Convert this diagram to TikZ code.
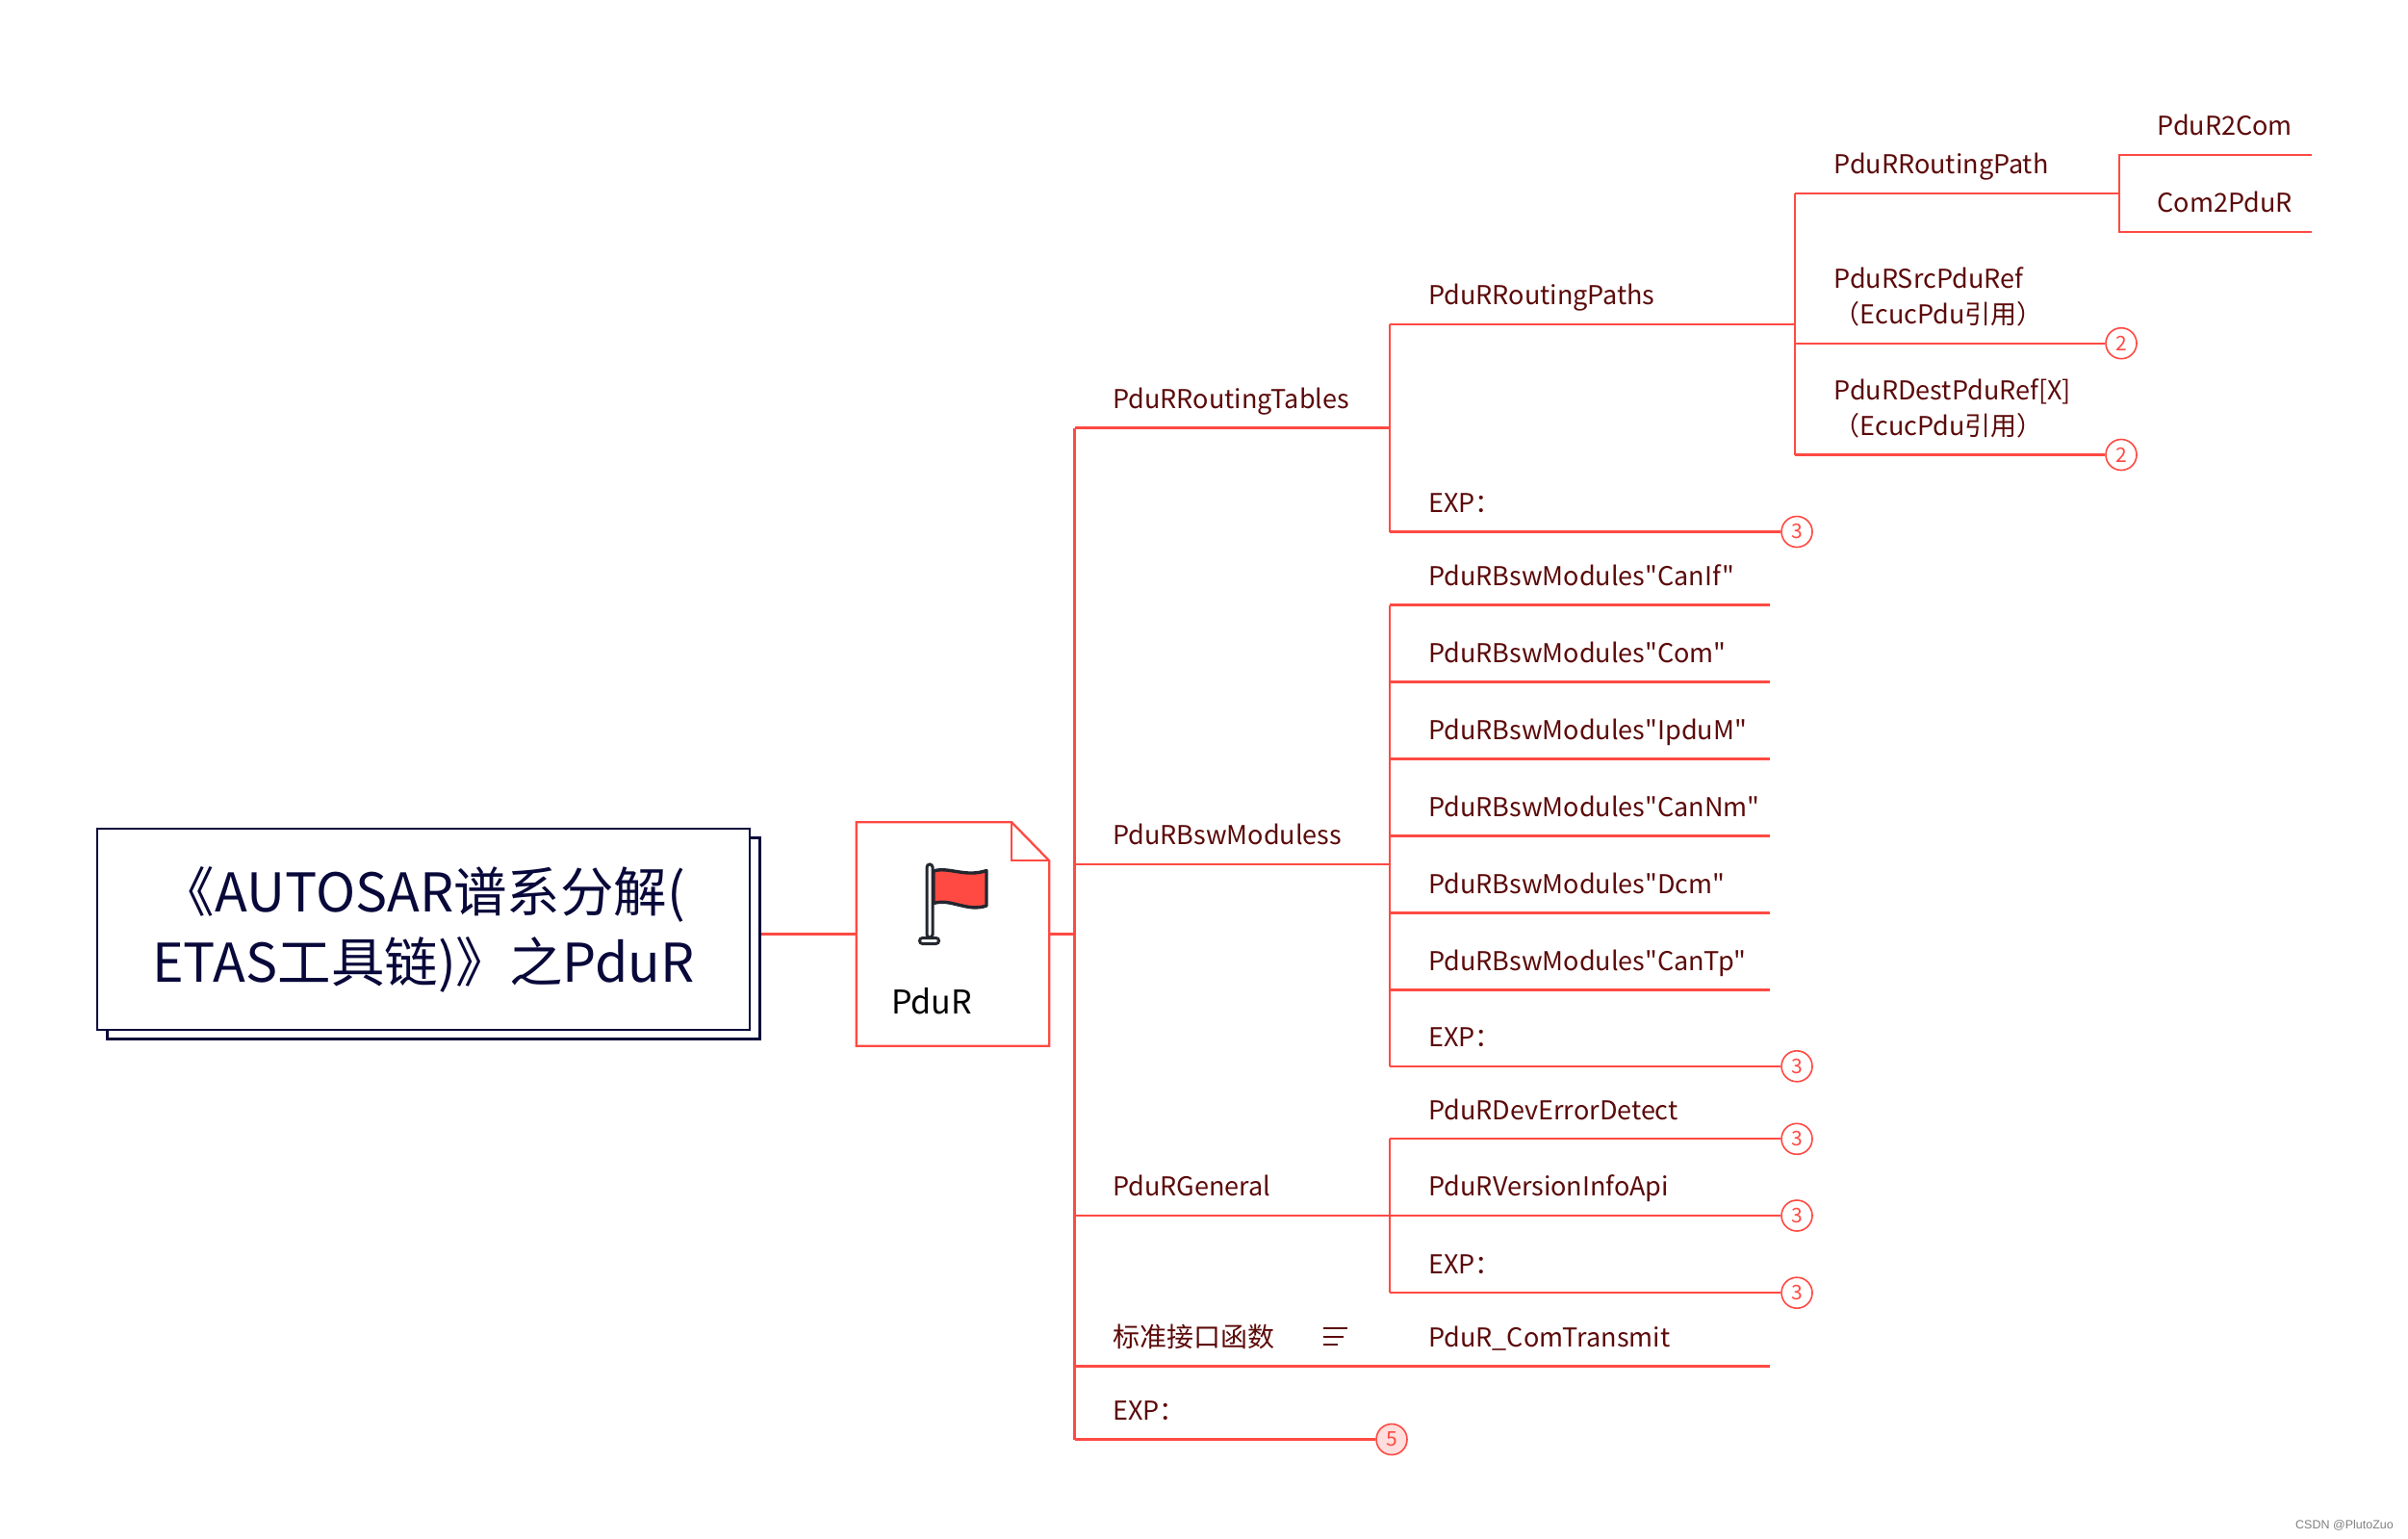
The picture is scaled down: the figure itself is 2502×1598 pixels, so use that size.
\documentclass[tikz,border=0pt]{standalone}
\usepackage{fontspec}
\setmainfont[Ligatures=TeXOff]{Noto Sans CJK SC}
\newfontfamily\markfont{Liberation Sans}
\usetikzlibrary{positioning}
\definecolor{linered}{HTML}{FF4A43}
\definecolor{maroon}{HTML}{5C0A0A}
\definecolor{navy}{HTML}{08083A}
\definecolor{flagdark}{HTML}{23272F}

\begin{document}
\begin{tikzpicture}[x=1pt,y=-1pt,
                branch/.style={draw=linered,line width=2.3pt},
                topic/.style={anchor=south west,inner sep=0pt,text depth=20pt,
                    text=maroon,font=\fontsize{27}{37}\selectfont,align=left},
                badge/.style={circle,draw=linered,fill=white,line width=1.6pt,inner sep=0pt,
                    minimum size=32pt,text=linered,font=\fontsize{21}{21}\selectfont},
                titlebox/.style={draw=navy,fill=white,line width=2.4pt,minimum width=678pt,
                    minimum height=209pt,inner sep=0pt,text=navy,align=center,
                    font=\fontsize{55.5}{73}\selectfont}]
            \useasboundingbox (0,0) rectangle (2502,1598);

            \node [titlebox]             (titleback) at (450.5,975)   {};
            \node [titlebox]             (title)     at (440,965.5)
                {《AUTOSAR谱系分解(\\ETAS工具链)》之PduR};
            \node [inner sep=0pt,minimum width=200pt,minimum height=232pt] (pdur) at (990,970.5) {};
            \node [anchor=base west,inner sep=0pt,font=\fontsize{34}{34}\selectfont] (pdurtext) at (926,1053) {PduR};

            \coordinate (v1)  at (1116.5,970.5);
            \coordinate (v2)  at (1444,444.5);
            \coordinate (v3)  at (1865,337);
            \coordinate (v4)  at (2202,201);
            \coordinate (tip) at (1839,0);
            \coordinate (far) at (2402,0);

            % first level
            \node [topic] (tables)  at (1156,444.5)  {PduRRoutingTables};
            \node [topic] (modules) at (1156,898)    {PduRBswModuless};
            \node [topic] (general) at (1156,1263)   {PduRGeneral};
            \node [topic,font=\fontsize{28}{37}\selectfont] (api) at (1156,1419.5) {标准接口函数};
            \node [topic] (exp)     at (1156,1495.5) {EXP：};
            \node [badge,fill=linered!18] (bexp) at (1446,1495.5) {5};

            % routing tables
            \node [topic] (paths)   at (1484,337)    {PduRRoutingPaths};
            \node [topic] (exp1)    at (1484,552.5)  {EXP：};
            \node [badge] (bexp1)   at (1867,552.5)  {3};
            \node [topic] (path)    at (1905.5,201)  {PduRRoutingPath};
            \node [topic] (src)     at (1905.5,356.7) {PduRSrcPduRef\\ （EcucPdu引用）};
            \node [badge] (bsrc)    at (2204,356.7)  {2};
            \node [topic] (dest)    at (1905.5,472.5) {PduRDestPduRef[X]\\ （EcucPdu引用）};
            \node [badge] (bdest)   at (2204,472.5)  {2};
            \node [topic] (r2com)   at (2241.5,161)  {PduR2Com};
            \node [topic] (com2r)   at (2241.5,241)  {Com2PduR};

            % bsw modules
            \node [topic] (canif)   at (1484,628.5)  {PduRBswModules"CanIf"};
            \node [topic] (com)     at (1484,708.5)  {PduRBswModules"Com"};
            \node [topic] (ipdum)   at (1484,788.5)  {PduRBswModules"IpduM"};
            \node [topic] (cannm)   at (1484,868.5)  {PduRBswModules"CanNm"};
            \node [topic] (dcm)     at (1484,948.5)  {PduRBswModules"Dcm"};
            \node [topic] (cantp)   at (1484,1028.5) {PduRBswModules"CanTp"};
            \node [topic] (exp2)    at (1484,1107.8) {EXP：};
            \node [badge] (bexp2)   at (1867,1107.8) {3};

            % general
            \node [topic] (dev)     at (1484,1183.3) {PduRDevErrorDetect};
            \node [badge] (bdev)    at (1867,1183.3) {3};
            \node [topic] (ver)     at (1484,1263)   {PduRVersionInfoApi};
            \node [badge] (bver)    at (1867,1263)   {3};
            \node [topic] (exp3)    at (1484,1343.2) {EXP：};
            \node [badge] (bexp3)   at (1867,1343.2) {3};
            \node [topic] (send)    at (1484,1419.5) {PduR\_ComTransmit};

            \draw [branch] (titleback.east |- v1) -- (pdur.west |- v1);
            \draw [branch] (pdur.east |- v1) -- (v1);
            \draw [branch] (v1 |- tables.south) -- (v1 |- exp.south);

            \draw [branch] (v1 |- tables.south) -- (v2 |- tables.south);
            \draw [branch] (v1 |- modules.south) -- (v2 |- modules.south);
            \draw [branch] (v1 |- general.south) -- (v2 |- general.south);
            \draw [branch] (v1 |- api.south) -- (tip |- api.south);
            \draw [branch] (v1 |- exp.south) -- (bexp);

            \draw [branch] (v2 |- paths.south) -- (v2 |- exp1.south);
            \draw [branch] (v2 |- paths.south) -- (v3);
            \draw [branch] (v2 |- exp1.south) -- (bexp1);
            \draw [branch] (v3 |- path.south) -- (v3 |- dest.south);
            \draw [branch] (v3 |- path.south) -- (v4);
            \draw [branch] (v3 |- src.south) -- (bsrc);
            \draw [branch] (v3 |- dest.south) -- (bdest);
            \draw [branch] (far |- r2com.south) -- (v4 |- r2com.south)
                -- (v4 |- com2r.south) -- (far |- com2r.south);

            \draw [branch] (v2 |- canif.south) -- (v2 |- exp2.south);
            \draw [branch] (v2 |- canif.south) -- (tip |- canif.south);
            \draw [branch] (v2 |- com.south) -- (tip |- com.south);
            \draw [branch] (v2 |- ipdum.south) -- (tip |- ipdum.south);
            \draw [branch] (v2 |- cannm.south) -- (tip |- cannm.south);
            \draw [branch] (v2 |- dcm.south) -- (tip |- dcm.south);
            \draw [branch] (v2 |- cantp.south) -- (tip |- cantp.south);
            \draw [branch] (v2 |- exp2.south) -- (bexp2);

            \draw [branch] (v2 |- dev.south) -- (v2 |- exp3.south);
            \draw [branch] (v2 |- dev.south) -- (bdev);
            \draw [branch] (v2 |- ver.south) -- (bver);
            \draw [branch] (v2 |- exp3.south) -- (bexp3);

            % note page of the central topic
            \draw [branch] (pdur.north west) -- ([xshift=-39pt]pdur.north east)
                -- ([yshift=-40pt]pdur.north east) -- (pdur.south east)
                -- (pdur.south west) -- cycle;
            \draw [branch] ([xshift=-39pt]pdur.north east) -- ([xshift=-39pt,yshift=-40pt]pdur.north east)
                -- ([yshift=-40pt]pdur.north east);

            % flag
            \draw [flagdark,fill=white,line width=3pt,rounded corners=3pt] (963,898) rectangle (969,974);
            \draw [flagdark,fill=white,line width=3pt,rounded corners=3pt] (955.5,974.5) rectangle (975.5,980.5);
            \draw [flagdark,fill=linered,line width=3.4pt,line join=round]
                (970,905) .. controls (985,900) and (1003,912) .. (1025,904.5)
                -- (1025,941) .. controls (1005,948) and (988,933) .. (970,938.5) -- cycle;

            % list mark behind the function group
            \draw [maroon,line width=2pt] (1375,1380) -- (1400,1380);
            \draw [maroon,line width=2pt] (1375,1388.5) -- (1396,1388.5);
            \draw [maroon,line width=2pt] (1375,1397) -- (1390,1397);

            \node [anchor=base east,inner sep=0pt,text=gray,font=\markfont\fontsize{12.5}{12.5}\selectfont]
                (mark) at (2487,1588) {CSDN @PlutoZuo};
        \end{tikzpicture}
\end{document}
